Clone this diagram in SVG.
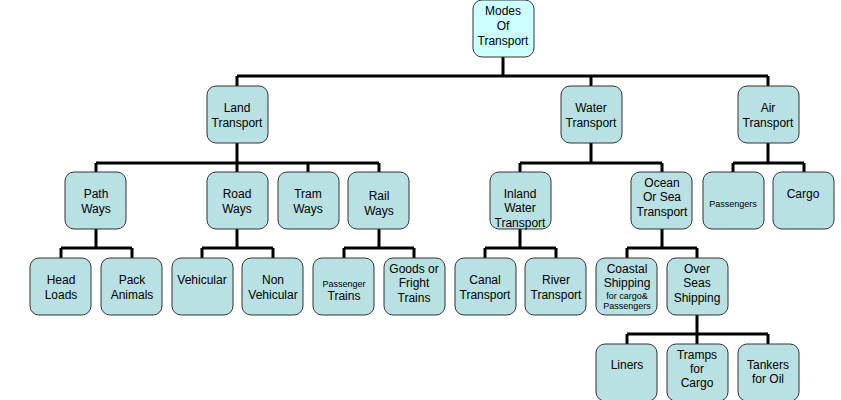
<svg xmlns="http://www.w3.org/2000/svg" width="841" height="400" viewBox="0 0 841 400">
<style>
.n rect{fill:#b9e0e3;stroke:#333;stroke-width:1}
.n text{font-family:"Liberation Sans",Arial,sans-serif;font-size:12px;text-anchor:middle;fill:#000}
.s{font-size:9px!important}
#c path{fill:none;stroke:#000;stroke-width:3}
</style>
<rect width="841" height="400" fill="#fff"/>
<g id="c">
<path d="M503 57V76M237 76H768M237 76V86M591 76V86M768 76V86"/>
<path d="M237 143V163M96 163H379M96 163V172M237 163V172M308 163V172M379 163V172"/>
<path d="M96 229V248M61 248H132M61 248V258M132 248V258"/>
<path d="M237 229V248M202 248H273M202 248V258M273 248V258"/>
<path d="M379 229V248M344 248H414M344 248V258M414 248V258"/>
<path d="M591 143V163M520 163H662M520 163V172M662 163V172"/>
<path d="M520 229V248M485 248H556M485 248V258M556 248V258"/>
<path d="M662 229V248M627 248H697M627 248V258M697 248V258"/>
<path d="M697 315V334M627 334H768M627 334V344M697 334V344M768 334V344"/>
<path d="M768 143V163M733 163H804M733 163V172M804 163V172"/>
</g>
<g id="root" class="n"><rect x="473" y="0" width="61" height="57" rx="9" style="fill:#ccffff"/><text x="503" y="15">Modes</text><text x="503" y="30">Of</text><text x="503" y="45">Transport</text></g>
<g id="land" class="n"><rect x="207" y="86" width="61" height="57" rx="9"/><text x="237" y="112">Land</text><text x="237" y="127">Transport</text></g>
<g id="water" class="n"><rect x="561" y="86" width="61" height="57" rx="9"/><text x="591" y="112">Water</text><text x="591" y="127">Transport</text></g>
<g id="air" class="n"><rect x="738" y="86" width="61" height="57" rx="9"/><text x="768" y="112">Air</text><text x="768" y="127">Transport</text></g>
<g id="path" class="n"><rect x="65" y="172" width="61" height="57" rx="9"/><text x="96" y="198">Path</text><text x="96" y="213">Ways</text></g>
<g id="road" class="n"><rect x="207" y="172" width="61" height="57" rx="9"/><text x="237" y="198">Road</text><text x="237" y="213">Ways</text></g>
<g id="tram" class="n"><rect x="278" y="172" width="61" height="57" rx="9"/><text x="308" y="198">Tram</text><text x="308" y="213">Ways</text></g>
<g id="rail" class="n"><rect x="348" y="172" width="61" height="57" rx="9"/><text x="379" y="200">Rail</text><text x="379" y="215">Ways</text></g>
<g id="inland" class="n"><rect x="490" y="172" width="61" height="57" rx="9"/><text x="520" y="198">Inland</text><text x="520" y="212">Water</text><text x="520" y="227">Transport</text></g>
<g id="ocean" class="n"><rect x="631" y="172" width="61" height="57" rx="9"/><text x="662" y="187">Ocean</text><text x="662" y="201">Or Sea</text><text x="662" y="216">Transport</text></g>
<g id="pass" class="n"><rect x="703" y="172" width="61" height="57" rx="9"/><text class="s" x="733" y="207">Passengers</text></g>
<g id="cargo" class="n"><rect x="773" y="172" width="61" height="57" rx="9"/><text x="803" y="198">Cargo</text></g>
<g id="head" class="n"><rect x="30" y="258" width="61" height="57" rx="9"/><text x="61" y="284">Head</text><text x="61" y="299">Loads</text></g>
<g id="pack" class="n"><rect x="101" y="258" width="61" height="57" rx="9"/><text x="132" y="284">Pack</text><text x="132" y="299">Animals</text></g>
<g id="veh" class="n"><rect x="172" y="258" width="61" height="57" rx="9"/><text x="202" y="284">Vehicular</text></g>
<g id="nonveh" class="n"><rect x="242" y="258" width="61" height="57" rx="9"/><text x="273" y="284">Non</text><text x="273" y="299">Vehicular</text></g>
<g id="ptrains" class="n"><rect x="313" y="258" width="61" height="57" rx="9"/><text class="s" x="344" y="287">Passenger</text><text x="344" y="300">Trains</text></g>
<g id="goods" class="n"><rect x="384" y="258" width="61" height="57" rx="9"/><text x="414" y="273">Goods or</text><text x="414" y="287">Fright</text><text x="414" y="302">Trains</text></g>
<g id="canal" class="n"><rect x="455" y="258" width="61" height="57" rx="9"/><text x="485" y="284">Canal</text><text x="485" y="299">Transport</text></g>
<g id="river" class="n"><rect x="525" y="258" width="61" height="57" rx="9"/><text x="556" y="284">River</text><text x="556" y="299">Transport</text></g>
<g id="coastal" class="n"><rect x="596" y="258" width="61" height="57" rx="9"/><text x="627" y="273">Coastal</text><text x="627" y="287">Shipping</text><text class="s" x="627" y="299">for cargo&amp;</text><text class="s" x="627" y="309">Passengers</text></g>
<g id="over" class="n"><rect x="667" y="258" width="61" height="57" rx="9"/><text x="697" y="273">Over</text><text x="697" y="287">Seas</text><text x="697" y="302">Shipping</text></g>
<g id="liners" class="n"><rect x="596" y="344" width="61" height="57" rx="9"/><text x="627" y="369">Liners</text></g>
<g id="tramps" class="n"><rect x="667" y="344" width="61" height="57" rx="9"/><text x="697" y="359">Tramps</text><text x="697" y="373">for</text><text x="697" y="387">Cargo</text></g>
<g id="tankers" class="n"><rect x="738" y="344" width="61" height="57" rx="9"/><text x="768" y="369">Tankers</text><text x="768" y="383">for Oil</text></g>
</svg>
